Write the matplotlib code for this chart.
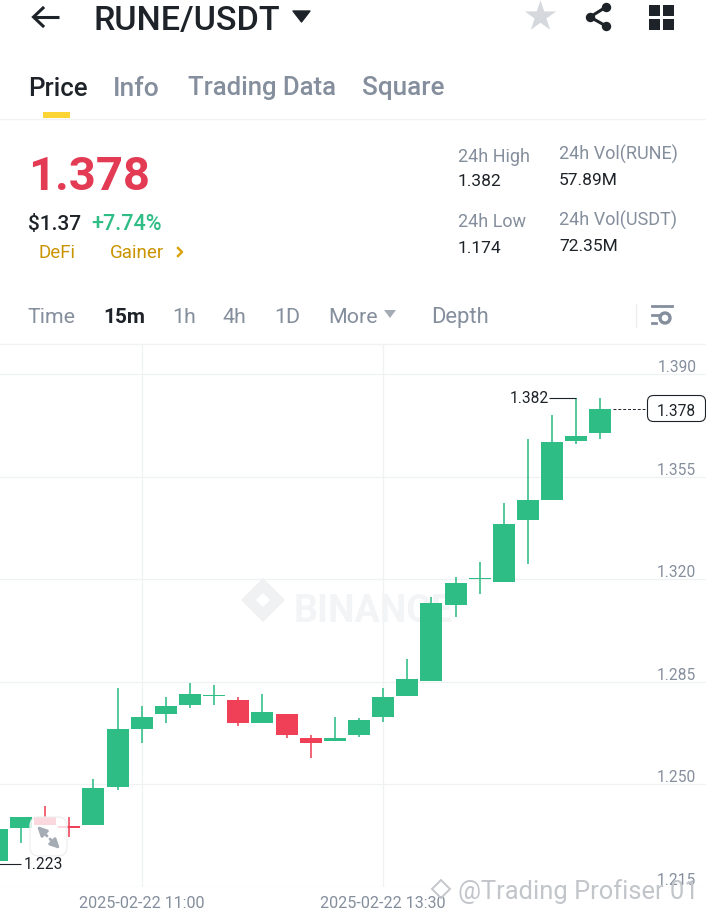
import matplotlib
matplotlib.use("Agg")
import matplotlib.pyplot as plt
from matplotlib.patches import FancyBboxPatch, Rectangle, Polygon, Circle

W, H = 706, 912
plt.rcParams['font.family'] = ['Roboto', 'DejaVu Sans']

# ---- data -------------------------------------------------------------
opens  = [1.2239,1.2350,1.2389,1.2359,1.2360,1.2490,1.2689,1.2740,1.2771,1.2802,1.2788,1.2710,1.2739,1.2659,1.2650,1.2668,1.2730,1.2802,1.2853,1.3111,1.3200,1.3191,1.3401,1.3472,1.3671,1.3701]
closes = [1.2348,1.2389,1.2361,1.2350,1.2487,1.2689,1.2729,1.2768,1.2808,1.2806,1.2710,1.2749,1.2669,1.2640,1.2658,1.2719,1.2798,1.2860,1.3118,1.3188,1.3204,1.3389,1.3470,1.3670,1.3689,1.3780]
highs  = [1.2348,1.2389,1.2428,1.2389,1.2518,1.2828,1.2768,1.2799,1.2848,1.2839,1.2799,1.2808,1.2739,1.2668,1.2729,1.2726,1.2829,1.2928,1.3139,1.3209,1.3259,1.3460,1.3679,1.3760,1.3820,1.3820]
lows   = [1.2232,1.2299,1.2361,1.2321,1.2360,1.2481,1.2640,1.2710,1.2760,1.2771,1.2700,1.2710,1.2659,1.2589,1.2650,1.2662,1.2713,1.2802,1.2853,1.3070,1.3150,1.3191,1.3251,1.3472,1.3661,1.3680]
# candle colour as shown on the chart: G = rising, R = falling
colours = list("GGRRGGGGGGRGRRGGGGGGGGGGGG")
y_ticks = [1.390, 1.355, 1.320, 1.285, 1.250, 1.215]
x_ticks = [6, 16]
x_labels = ["2025-02-22 11:00", "2025-02-22 13:30"]
day_high, day_low, last = 1.382, 1.223, 1.378

GREEN, RED = '#2ebd85', '#ef4058'
GRID = '#eff1f3'
GRAY = '#848e9c'
DARK = '#1e2329'

fig = plt.figure(figsize=(W/100, H/100), dpi=100, facecolor='white')

# ---- chart ------------------------------------------------------------
ax = fig.add_axes([0, (H-888)/H, 1, 542/H])
ax.set_xlim(0.1325, 29.37)
ax.set_ylim(1.215, 1.400)
for s in ax.spines.values():
    s.set_visible(False)
ax.set_axisbelow(True)
ax.grid(True, color=GRID, lw=0.9)
ax.set_yticks(y_ticks)
ax.set_yticklabels([f"{v:.3f}" for v in y_ticks])
ax.yaxis.tick_right()
ax.tick_params(axis='y', length=0, pad=-7, labelsize=11.2, labelcolor=GRAY)
for t in ax.get_yticklabels():
    t.set_ha('right'); t.set_va('bottom')
ax.set_xticks(x_ticks)
ax.set_xticklabels(x_labels)
ax.tick_params(axis='x', length=0, pad=6, labelsize=11.6, labelcolor=GRAY)
for t in ax.get_xticklabels():
    t.set_clip_on(False)

ax.text(15.6, 1.3095, "BINANCE", color='#f3f4f6', fontsize=27, weight='bold',
        ha='center', va='center', zorder=1)

xs = list(range(len(opens)))
cols = [GREEN if c == 'G' else RED for c in colours]
ax.vlines(xs, lows, highs, colors=cols, lw=1.15, zorder=3)
bott = [min(o, c) for o, c in zip(opens, closes)]
hgt = [abs(c-o) for o, c in zip(opens, closes)]
ax.bar(xs, hgt, bottom=bott, width=0.91, color=cols, zorder=4, linewidth=0)

ax.hlines(day_high, 22.85, 24, colors=DARK, lw=0.8, zorder=3)
ax.text(22.85, day_high, f"{day_high:.3f}", ha='right', va='center', fontsize=11.2, color=DARK)
ax.hlines(day_low, 0, 1.0, colors=DARK, lw=0.8, zorder=3)
ax.text(1.1, day_low, f"{day_low:.3f}", ha='left', va='center', fontsize=11.2, color=DARK)
ax.hlines(last, 25.5, 26.85, colors=DARK, lw=0.7, linestyles=(0, (3, 2)), zorder=3)

# ---- overlay in pixel space -------------------------------------------
ov = fig.add_axes([0, 0, 1, 1], facecolor='none')
ov.set_xlim(0, W); ov.set_ylim(H, 0); ov.axis('off')

def txt(x, y, s, size, color=DARK, weight='normal', ha='left', **kw):
    return ov.text(x, y + 1.5, s, fontsize=size, color=color, weight=weight, ha=ha, va='center', **kw)

# current price box
ov.add_patch(FancyBboxPatch((650.5, 399.5), 52, 20, boxstyle="round,pad=3,rounding_size=6",
                            fc='white', ec=DARK, lw=0.8, zorder=5))
txt(696, 410, f"{last:.3f}", 11.2, ha='right', zorder=6)

# watermark logo
ov.add_patch(Polygon([(263, 579), (285, 601), (263, 623), (241, 601)], closed=True,
                     fc='#f0f1f3', ec='none', zorder=1))
ov.add_patch(Polygon([(263, 594), (270, 601), (263, 608), (256, 601)], closed=True,
                     fc='white', ec='none', zorder=1))

# expand button
ov.add_patch(FancyBboxPatch((36, 824), 25, 27, boxstyle="round,pad=6,rounding_size=9",
                            fc=(1, 1, 1, 0.8), ec='#eceef0', lw=0.9, zorder=5))
arrow = dict(arrowstyle='-|>', color='#a6acb4', lw=2, mutation_scale=14, shrinkA=0, shrinkB=0)
ov.annotate('', xy=(37, 827), xytext=(47, 837), arrowprops=arrow, zorder=6)
ov.annotate('', xy=(60, 850), xytext=(50, 840), arrowprops=arrow, zorder=6)

# footer watermark
txt(698, 890, "@Trading Profiser 01", 18.4, color='#c2c5ca', ha='right', zorder=7)
ov.add_patch(Polygon([(441, 881), (450, 890), (441, 899), (432, 890)], closed=True,
                     fc='none', ec='#c4c7cc', lw=1.4, zorder=7))

# header
ov.plot([34, 59], [18, 18], color=DARK, lw=2.2, solid_capstyle='butt')
ov.plot([43, 33.5, 43], [9, 18, 27], color=DARK, lw=2.2, solid_joinstyle='miter')
txt(93, 19, "RUNE/USDT", 24.6, weight='medium')
ov.add_patch(Polygon([(293, 12), (310, 12), (301.5, 23)], closed=True, fc=DARK, ec=DARK, lw=1, joinstyle='round'))
ov.scatter([540], [17], marker='*', s=560, color='#d5d8dc', linewidths=0)
ov.plot([606, 590, 606], [8, 18, 27], color=DARK, lw=2.2)
ov.scatter([606, 590, 606], [8, 18, 27], s=46, color=DARK, linewidths=0, zorder=3)
for gx, gy in [(649, 6), (663, 6), (649, 20), (663, 20)]:
    ov.add_patch(Rectangle((gx, gy), 11, 11, fc=DARK, ec='none'))

# tabs
txt(28, 87.5, "Price", 18.6, weight='medium')
txt(113, 87.5, "Info", 19, color=GRAY, weight='medium')
txt(188, 86, "Trading Data", 18.5, color=GRAY, weight='medium')
txt(362, 86, "Square", 18.8, color=GRAY, weight='medium')
ov.add_patch(Rectangle((43, 113), 27, 6, fc='#fcd535', ec='none'))
ov.plot([0, W], [120, 120], color='#f1f2f4', lw=1)

# price block
txt(28, 176, "1.378", 34, color='#e33b54', weight='bold')
txt(28, 223, "$1.37", 15, weight='medium')
txt(91, 223, "+7.74%", 15.5, color=GREEN, weight='medium')
txt(38, 252, "DeFi", 13.5, color='#c99400')
txt(110, 252, "Gainer", 13.5, color='#c99400')
ov.plot([178, 182, 178], [249, 253, 257], color='#d9a514', lw=1.8)

# statistics
txt(458, 155, "24h High", 13, color=GRAY)
txt(458, 180, "1.382", 12.5)
txt(458, 221, "24h Low", 13, color=GRAY)
txt(458, 247, "1.174", 12.5)
txt(559, 153, "24h Vol(RUNE)", 13, color=GRAY)
txt(559, 179, "57.89M", 12.5)
txt(559, 219, "24h Vol(USDT)", 13, color=GRAY)
txt(559, 245, "72.35M", 12.5)

# interval bar
txt(27, 316, "Time", 15.4, color=GRAY)
txt(103, 316, "15m", 15, weight='bold')
txt(172, 316, "1h", 15.4, color=GRAY)
txt(222, 316, "4h", 15.4, color=GRAY)
txt(274, 316, "1D", 15.4, color=GRAY)
txt(328, 316, "More", 15.4, color=GRAY)
ov.add_patch(Polygon([(384, 311), (396, 311), (390, 319)], closed=True, fc='#a6acb4', ec='none'))
txt(431, 316, "Depth", 15.8, color=GRAY)
ov.plot([636, 636], [305, 328], color='#eceef0', lw=1)
ov.plot([652, 672], [307, 307], color=GRAY, lw=2)
ov.plot([652, 658], [316, 316], color=GRAY, lw=2)
ov.plot([652, 656], [324, 324], color=GRAY, lw=2)
ov.add_patch(Circle((665, 319), 5, fc='none', ec=GRAY, lw=2.4))
ov.plot([0, W], [344.5, 344.5], color='#f1f2f4', lw=1)

fig.savefig("out.png", dpi=100, facecolor='white')
